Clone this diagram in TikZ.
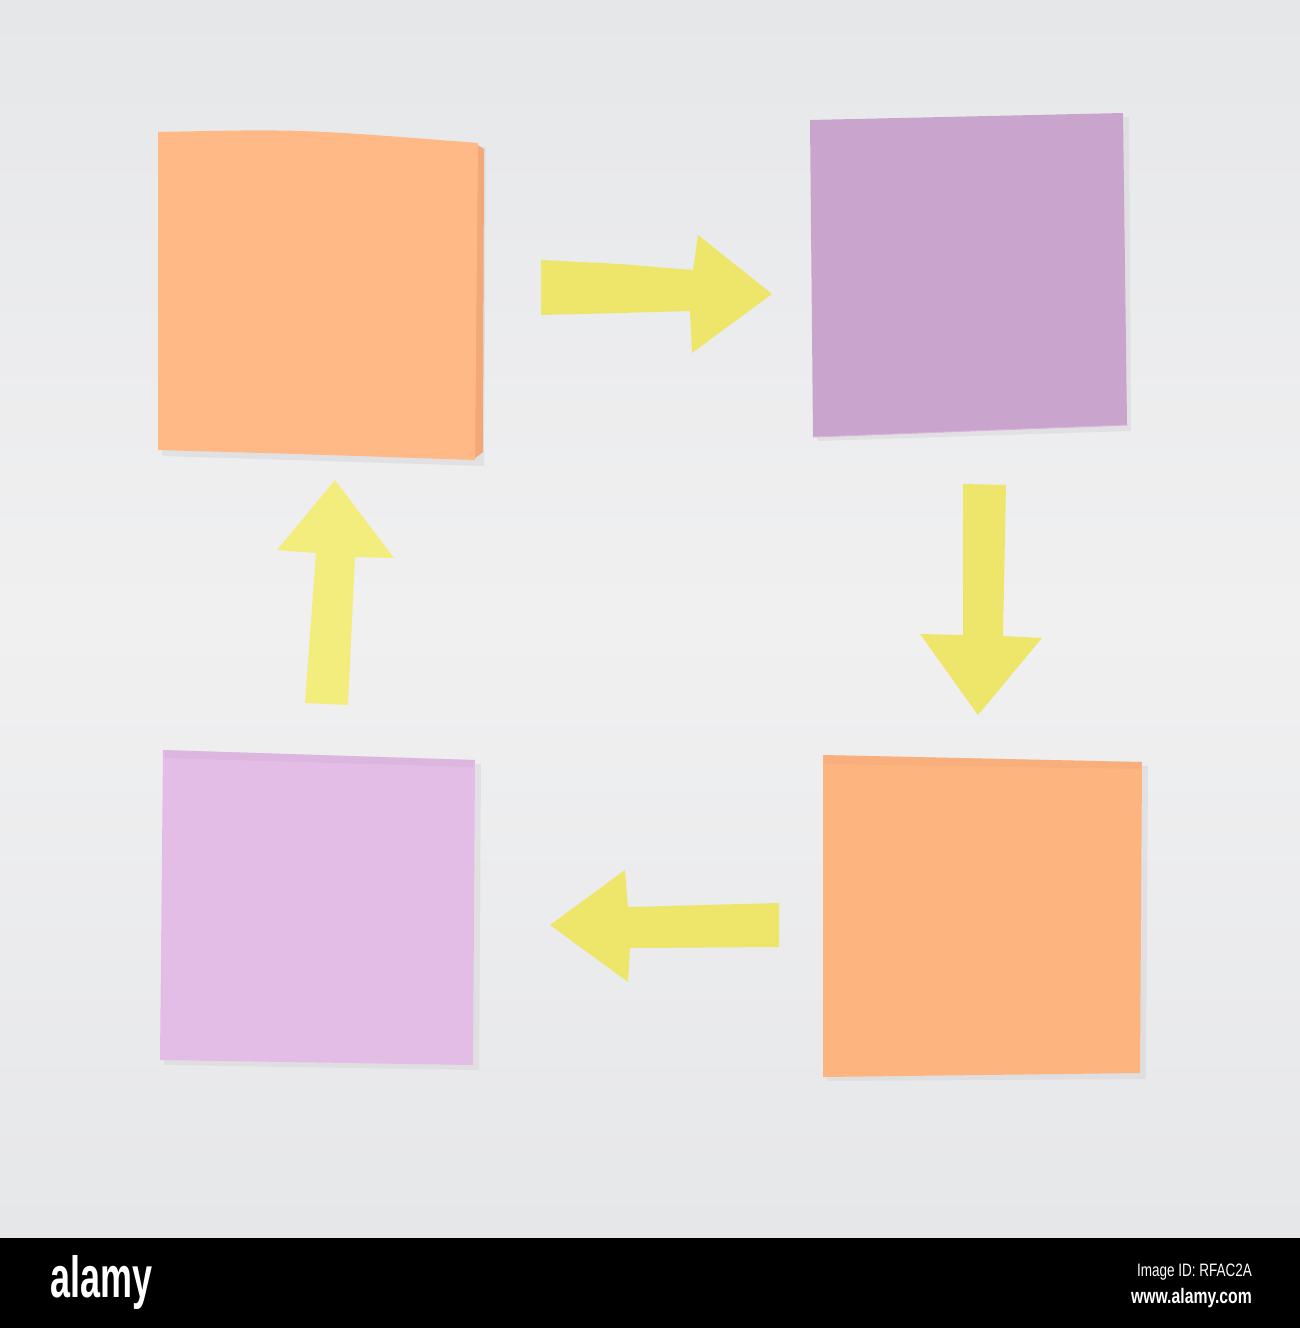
\documentclass[tikz,border=0pt]{standalone}
\usepackage{fontspec}
\setmainfont{Liberation Sans}
\definecolor{bgc}{HTML}{F0F0F1}
\definecolor{bgtop}{HTML}{E6E7E9}
\definecolor{orangeA}{HTML}{FFB987}
\definecolor{orangeE}{HTML}{F2A878}
\definecolor{orangeB}{HTML}{FDB47F}
\definecolor{purpA}{HTML}{C9A4CC}
\definecolor{purpB}{HTML}{E4BDE7}
\definecolor{purpE}{HTML}{D8B2DB}
\definecolor{yel}{HTML}{EEE66B}
\definecolor{yelL}{HTML}{F3ED7D}
\definecolor{shad}{HTML}{D9D9DC}
\tikzset{
  paper/.style={line join=round},
  shadowstyle/.style={fill=shad, opacity=0.6},
  arrowpaper/.style={fill=yel, line join=round},
  bartext/.style={text=white, inner sep=0pt, font=\bfseries}
}
\begin{document}
\begin{tikzpicture}[x=1pt,y=-1pt]
\useasboundingbox (0,0) rectangle (1300,1328);
% background
\shade[top color=bgtop, bottom color=bgc] (0,0) rectangle (1300,620);
\shade[top color=bgc, bottom color=bgtop] (0,620) rectangle (1300,1238);
% bottom bar
\fill[black] (0,1238) rectangle (1300,1328);
\node[bartext, anchor=west, xscale=0.62, font=\bfseries\fontsize{58}{60}\selectfont] (logo) at (50,1282) {alamy};
\node[bartext, anchor=east, xscale=0.75, font=\fontsize{18}{20}\selectfont] (imgid) at (1252,1272) {Image ID: RFAC2A};
\node[bartext, anchor=east, xscale=0.75, font=\bfseries\fontsize{21}{23}\selectfont] (url) at (1252,1298) {www.alamy.com};

% shadows
\fill[shadowstyle] (162,136) -- (486,147) -- (484,466) -- (162,456) -- cycle;
\fill[shadowstyle] (815,124) -- (1129,117) -- (1131,431) -- (818,441) -- cycle;
\fill[shadowstyle] (166,754) -- (481,764) -- (479,1070) -- (164,1065) -- cycle;
\fill[shadowstyle] (827,759) -- (1148,766) -- (1146,1079) -- (827,1081) -- cycle;

% top-left orange square
\fill[orangeE] (474,143) -- (484,149) -- (483,452) -- (474,459) -- cycle;
\fill[orangeA, paper] (158,132) .. controls (300,129) .. (478,143) -- (475,460) .. controls (300,454) .. (158,450) -- cycle;
% top-right purple square
\fill[purpA, paper] (810,120) -- (1123,113) -- (1127,425) -- (813,437) -- cycle;
\draw[purpE, line width=1pt] (813,437) -- (1127,425);
% bottom-left purple square
\fill[purpB, paper] (163,750) -- (475,760) -- (473,1065) -- (160,1060) -- cycle;
\fill[purpE, opacity=0.6] (163,750) -- (475,760) -- (473,767) -- (165,758) -- cycle;
% bottom-right orange square
\fill[orangeB, paper] (823,755) -- (1142,762) -- (1140,1073) -- (823,1077) -- cycle;
\fill[orangeE, opacity=0.4] (823,755) -- (1142,762) -- (1140,769) -- (825,764) -- cycle;

% right arrow
\fill[arrowpaper] (541,260) -- (620,264) -- (693,270) -- (698,235) -- (772,294)
  -- (692,353) -- (690,311) -- (620,313) -- (541,315) -- cycle;
% down arrow
\fill[arrowpaper] (963,484) -- (1006,485) -- (1003,636) -- (1042,638)
  -- (978,715) -- (920,634) -- (963,635) -- cycle;
% left arrow
\fill[arrowpaper] (550,925) -- (625,870) -- (628,907) -- (779,903)
  -- (779,947) -- (630,948) -- (628,982) -- cycle;
% up arrow
\fill[arrowpaper, fill=yelL] (335,480) -- (394,558) -- (355,557) -- (348,705)
  -- (305,703) -- (316,553) -- (277,550) -- cycle;
\end{tikzpicture}
\end{document}
